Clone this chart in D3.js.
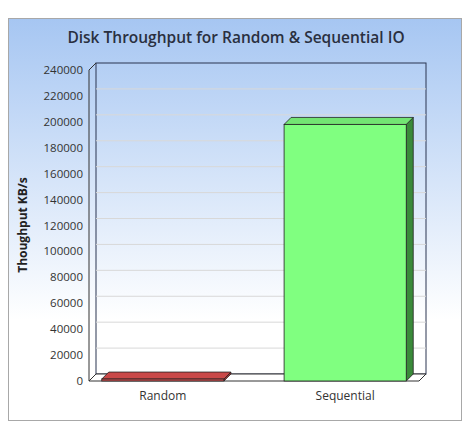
<!DOCTYPE html>
<html><head><meta charset="utf-8">
<script src="https://cdn.jsdelivr.net/npm/d3@7"></script>
<style>body{margin:0;background:#fff}</style>
</head><body>
<svg width="474" height="434"></svg>
<script>
const categories = ["Random", "Sequential"];
const values = [1500, 198000];
const colors = [["#e05050", "#b03030"], ["#80ff80", "#3a8a3a"]];
const yTicks = d3.range(0, 240001, 20000);

const svg = d3.select("svg");
const dx = 7, dy = 7; // depth offset
const pLeft = 89, pRight = 419, pTop = 70, pBottom = 381;

const defs = svg.append("defs");
const g = defs.append("linearGradient").attr("id", "bg").attr("x1", 0).attr("y1", 0).attr("x2", 0).attr("y2", 1);
g.append("stop").attr("offset", "0%").attr("stop-color", "#a6c6f2");
g.append("stop").attr("offset", "75%").attr("stop-color", "#ffffff");

svg.append("rect").attr("x", 8.5).attr("y", 18.5).attr("width", 453).attr("height", 402)
  .attr("fill", "url(#bg)").attr("stroke", "#a8a8a8");

svg.append("text").attr("x", 236).attr("y", 43).attr("text-anchor", "middle")
  .attr("font-family", "Open Sans").attr("font-size", 15.5).attr("font-weight", 600)
  .attr("fill", "#2a3040").text("Disk Throughput for Random & Sequential IO");

const y = d3.scaleLinear().domain([0, 240000]).range([pBottom, pTop]);
const x = d3.scaleBand().domain(categories).range([pLeft, pRight]).paddingInner(0.33).paddingOuter(0.07);

// back wall and floor
svg.append("rect").attr("x", pLeft + dx).attr("y", pTop - dy).attr("width", pRight - pLeft)
  .attr("height", pBottom - pTop).attr("fill", "none").attr("stroke", "#2a3450");
svg.selectAll(".grid").data(yTicks.slice(1, -1)).join("line")
  .attr("x1", pLeft + dx).attr("x2", pRight + dx)
  .attr("y1", d => y(d) - dy).attr("y2", d => y(d) - dy)
  .attr("stroke", "#d8d8d8");
svg.append("path")
  .attr("d", `M${pLeft},${pBottom}L${pLeft + dx},${pBottom - dy}L${pRight + dx},${pBottom - dy}L${pRight},${pBottom}Z`)
  .attr("fill", "#fff").attr("stroke", "#333");
svg.append("path")
  .attr("d", `M${pLeft},${pBottom}L${pLeft},${pTop}L${pLeft + dx},${pTop - dy}`)
  .attr("fill", "none").attr("stroke", "#333");

svg.selectAll(".tick").data(yTicks).join("text")
  .attr("x", pLeft - 6).attr("y", d => y(d) + 4).attr("text-anchor", "end")
  .attr("font-family", "Open Sans").attr("font-size", 11.5).attr("fill", "#333")
  .text(d => d);

svg.append("text").attr("transform", "translate(27,225) rotate(-90)").attr("text-anchor", "middle")
  .attr("font-family", "Open Sans").attr("font-size", 12).attr("font-weight", 700)
  .attr("fill", "#222").text("Thoughput KB/s");

// bars
categories.forEach((c, i) => {
  const x0 = x(c), w = x.bandwidth(), yt = y(values[i]);
  const b = svg.append("g").attr("stroke", "#222").attr("stroke-width", 0.8);
  b.append("path").attr("d", `M${x0 + w},${pBottom}L${x0 + w + dx},${pBottom - dy}L${x0 + w + dx},${yt - dy}L${x0 + w},${yt}Z`)
    .attr("fill", colors[i][1]);
  b.append("path").attr("d", `M${x0},${yt}L${x0 + dx},${yt - dy}L${x0 + w + dx},${yt - dy}L${x0 + w},${yt}Z`)
    .attr("fill", d3.color(colors[i][0]).darker(0.3));
  b.append("rect").attr("x", x0).attr("y", yt).attr("width", w).attr("height", pBottom - yt)
    .attr("fill", colors[i][0]);
  svg.append("text").attr("x", x0 + w / 2).attr("y", 400).attr("text-anchor", "middle")
    .attr("font-family", "Open Sans").attr("font-size", 12).attr("fill", "#333").text(c);
});
</script>
</body></html>
